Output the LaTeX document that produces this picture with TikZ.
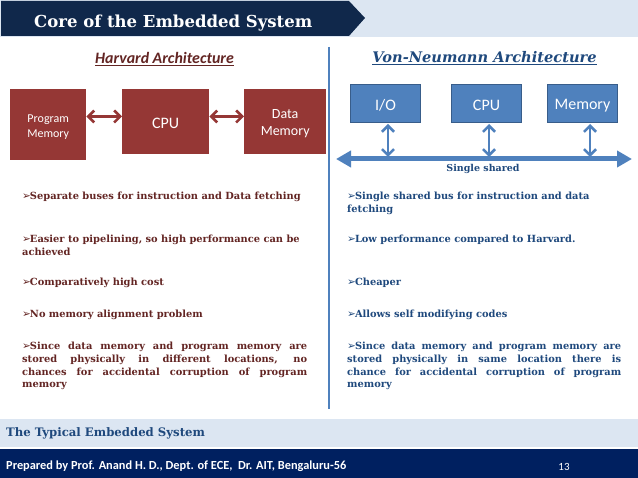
\documentclass[tikz,border=0pt]{standalone}
\usepackage{fontspec}
\usetikzlibrary{arrows.meta}
\setmainfont{DejaVu Serif}
\newfontfamily\calib{Carlito}
\newfontfamily\dvs{DejaVu Sans}
\newcommand{\bul}{{\dvs\fontsize{10.5}{9.5}\selectfont ➢}\hspace{-1pt}}
\definecolor{navyA}{HTML}{10284B}
\definecolor{navyB}{HTML}{002060}
\definecolor{lightband}{HTML}{DCE6F2}
\definecolor{brick}{HTML}{953735}
\definecolor{blueb}{HTML}{4F81BD}
\definecolor{bluedk}{HTML}{385D8A}
\definecolor{bluetxt}{HTML}{1F497D}
\definecolor{redtxt}{HTML}{632523}
\tikzset{
  x=1pt,y=-1pt,
  rbox/.style={fill=brick,draw=none,text=white,align=center,inner sep=0pt,anchor=north west},
  bbox/.style={fill=blueb,draw=bluedk,line width=1pt,text=white,font=\calib\fontsize{16}{19}\selectfont,align=center,inner sep=0pt,anchor=north west,minimum width=70pt,minimum height=38pt},
  rarrow/.style={draw=brick,line width=2.6pt,{Straight Barb[length=6pt,width=12pt,line width=2.6pt]}-{Straight Barb[length=6pt,width=12pt,line width=2.6pt]}},
  barrow/.style={draw=blueb,line width=2.6pt,{Straight Barb[length=6pt,width=12pt,line width=2.6pt]}-{Straight Barb[length=6pt,width=12pt,line width=2.6pt]},shorten <=1pt},
  bus/.style={draw=blueb,line width=5pt,{Triangle[length=15pt,width=16pt,fill=blueb]}-{Triangle[length=15pt,width=16pt,fill=blueb]}},
  para/.style={font=\bfseries\fontsize{9.85}{12.7}\selectfont,align=justify,inner sep=0pt,anchor=north west},
  lp/.style={para,text=redtxt,text width=285pt},
  rp/.style={para,text=bluetxt,text width=274pt},
}
\begin{document}
\begin{tikzpicture}
\useasboundingbox (0,0) rectangle (638,478);
\fill[white] (0,0) rectangle (638,478);
% bands
\fill[lightband] (0,0) rectangle (638,37);
\fill[navyA] (1,1) -- (349,1) -- (365,18) -- (349,36) -- (1,36) -- cycle;
\node[anchor=west,text=white,font=\bfseries\fontsize{16.5}{18}\selectfont,inner sep=0pt] (title) at (34,23) {Core of the Embedded System};
\fill[lightband] (0,419) rectangle (638,447);
\fill[navyB] (0,449) rectangle (638,478);
\node[anchor=west,text=bluetxt,font=\bfseries\fontsize{11.7}{13}\selectfont,inner sep=0pt] (sub) at (6,433) {The Typical Embedded System};
\node[anchor=west,text=white,font=\calib\bfseries\fontsize{12.35}{15}\selectfont,inner sep=0pt] (prep) at (6,466.5) {Prepared by Prof. Anand H. D., Dept. of ECE,\ \ Dr. AIT, Bengaluru-56};
\node[text=white,font=\calib\fontsize{11}{12}\selectfont,inner sep=0pt] (pg) at (564,466.5) {13};
% separator
\coordinate (sepT) at (329,47);
\coordinate (sepB) at (329,409);
\draw[blueb,line width=2.5pt] (sepT) -- (sepB);
% headings
\node[text=redtxt,font=\calib\bfseries\itshape\fontsize{15.9}{18}\selectfont,inner sep=1pt] (hh) at (164.5,59) {\underline{Harvard Architecture}};
\node[text=bluetxt,font=\bfseries\itshape\fontsize{14.6}{16}\selectfont,inner sep=1pt] (vh) at (484.5,58) {\underline{Von-Neumann Architecture}};
% Harvard
\node[rbox,minimum width=76pt,minimum height=71pt,font=\calib\fontsize{12}{14.5}\selectfont] (pm) at (10,89) {\rule{0pt}{13pt}Program\\Memory};
\node[rbox,minimum width=87pt,minimum height=65pt,font=\calib\fontsize{16}{19}\selectfont] (cpu1) at (122,89) {\rule{0pt}{14pt}CPU};
\node[rbox,minimum width=82pt,minimum height=65pt,font=\calib\fontsize{14}{17}\selectfont] (dm) at (244,89) {\rule{0pt}{13pt}Data\\Memory};
\draw[rarrow] (pm.east |- 0,116.5) -- (cpu1.west |- 0,116.5);
\draw[rarrow] (cpu1.east |- 0,116.5) -- (dm.west |- 0,116.5);
% Von Neumann
\node[bbox] (io) at (350,84) {\rule{0pt}{14pt}I/O};
\node[bbox] (cpu2) at (451,84) {\rule{0pt}{14pt}CPU};
\node[bbox] (mem) at (547,84) {\rule{0pt}{14pt}Memory};
\coordinate (busL) at (336,159);
\coordinate (busR) at (632,159);
\draw[bus] (busL) -- (busR);
\coordinate (b1) at (388,157);
\coordinate (b2) at (489,157);
\coordinate (b3) at (590,157);
\draw[barrow] (io.south -| b1) -- (b1);
\draw[barrow] (cpu2.south -| b2) -- (b2);
\draw[barrow] (mem.south -| b3) -- (b3);
\node[text=bluetxt,font=\bfseries\fontsize{9.5}{11}\selectfont,inner sep=0pt] (ss) at (483,169) {Single shared};
% left text
\node[lp] (l1) at (22,192) {\bul Separate buses for instruction and Data fetching};
\node[lp] (l2) at (22,235) {\bul Easier to pipelining, so high performance can be\\ achieved};
\node[lp] (l3) at (22,278) {\bul Comparatively high cost};
\node[lp] (l4) at (22,310) {\bul No memory alignment problem};
\node[lp] (l5) at (22,342) {\bul Since data memory and program memory are\linebreak stored physically in different locations, no\linebreak chances for accidental corruption of program\linebreak memory};
% right text
\node[rp] (r1) at (347,192) {\bul Single shared bus for instruction and data\\ fetching};
\node[rp] (r2) at (347,235) {\bul Low performance compared to Harvard.};
\node[rp] (r3) at (347,278) {\bul Cheaper};
\node[rp] (r4) at (347,310) {\bul Allows self modifying codes};
\node[rp] (r5) at (347,342) {\bul Since data memory and program memory are\linebreak stored physically in same location there is\linebreak chance for accidental corruption of program\linebreak memory};
\end{tikzpicture}
\end{document}
